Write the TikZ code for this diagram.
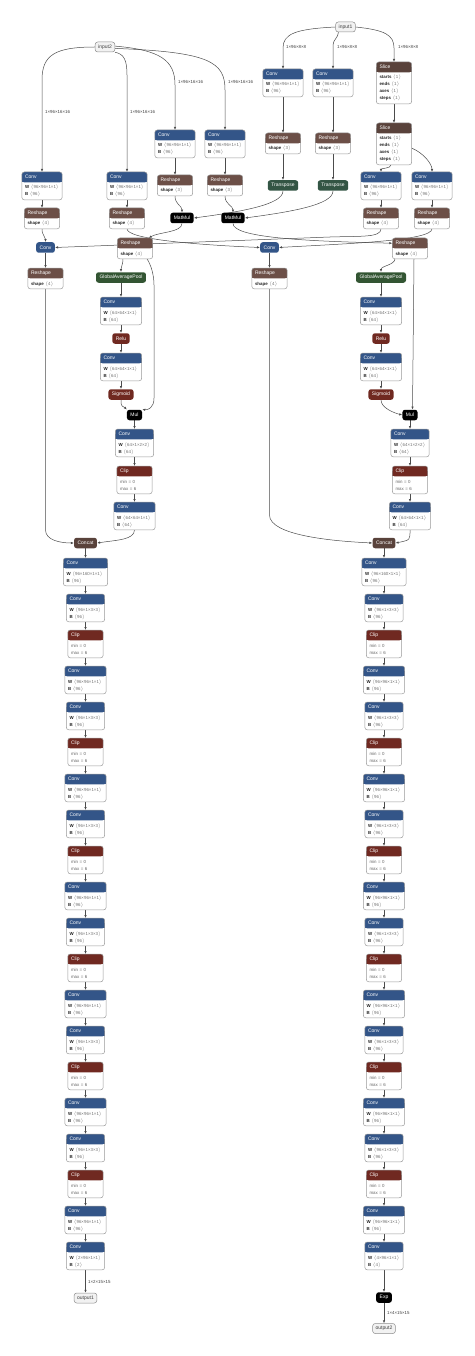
\documentclass[tikz,border=0pt]{standalone}
\usepackage{fontspec}
\setmainfont{Liberation Sans}
\usepackage{xcolor}
\usetikzlibrary{arrows.meta,positioning,calc}
\definecolor{convcol}{HTML}{335588}
\definecolor{actcol}{HTML}{702921}
\definecolor{shapecol}{HTML}{6C4F47}
\definecolor{tenscol}{HTML}{59423B}
\definecolor{transcol}{HTML}{335544}
\definecolor{poolcol}{HTML}{335533}
\newcommand{\hdfont}{\fontsize{5}{6}\selectfont}
\newcommand{\atfont}{\fontsize{4.4}{7}\selectfont}
\newcommand{\attv}[1]{\textcolor{black!55}{$\langle$#1$\rangle$}}
\pgfdeclarelayer{edgelayer}
\pgfdeclarelayer{boxlayer}
\pgfsetlayers{edgelayer,boxlayer,main}
\tikzset{
  ophead/.style={anchor=north, inner xsep=3pt, inner ysep=0pt, minimum height=10pt, align=left, text=white, font=\hdfont},
  opbody/.style={inner xsep=3pt, inner ysep=1.5pt, align=left, text=black!85, font=\atfont},
  opline/.style={draw=black!40, line width=0.5pt, rounded corners=2.5pt},
  tag/.style={fill=#1, text=white, rounded corners=2.5pt, minimum height=10.5pt, inner xsep=3.5pt, inner ysep=0pt, font=\hdfont},
  io/.style={fill=black!5, draw=black!45, line width=0.5pt, rounded corners=2.5pt, minimum height=10pt, inner xsep=3pt, inner ysep=0pt, font=\hdfont, text=black!75},
  link/.style={draw=black!70, line width=0.5pt, -{Latex[length=3pt,width=2.4pt]}},
  elabel/.style={anchor=west, font=\atfont, text=black!75, inner sep=0pt},
}
% operator box: name, x, top y, width, colour, title, attributes
\newcommand{\opbox}[7]{%
  \pgfmathsetmacro\boxtw{#4-6}
  \node[ophead, text width=\boxtw pt] (#1) at (#2,#3) {#6};
  \node[opbody, text width=\boxtw pt, below=0pt of #1] (#1-b) {\strut#7\strut};
  \begin{pgfonlayer}{boxlayer}
    \fill[white, rounded corners=2.5pt] (#1.north west) rectangle (#1-b.south east);
    \fill[#5, rounded corners=2.5pt] (#1.north west) rectangle (#1.south east);
    \fill[#5] (#1.west) rectangle (#1.south east);
    \draw[opline] (#1.north west) rectangle (#1-b.south east);
  \end{pgfonlayer}
}
\newcommand{\convwb}[2]{\mbox{\textbf{W}~\attv{#1}}\\\mbox{\textbf{B}~\attv{#2}}}
\newcommand{\clipmm}{\textcolor{black!60}{min~=~0}\\\textcolor{black!60}{max~=~6}}

\begin{document}
\begin{tikzpicture}[x=1pt,y=-1pt]
\useasboundingbox (0,0) rectangle (474,1356);

% graph inputs
\node[io] (in1) at (345.5,27) {input1};
\node[io] (in2) at (105,47) {input2};

% search branch (input2)
\opbox{cA}{42}{172}{40}{convcol}{Conv}{\convwb{96×96×1×1}{96}}
\opbox{cB}{127}{172}{40}{convcol}{Conv}{\convwb{96×96×1×1}{96}}
\opbox{cC}{175}{130}{40}{convcol}{Conv}{\convwb{96×96×1×1}{96}}
\opbox{cD}{225}{130}{40}{convcol}{Conv}{\convwb{96×96×1×1}{96}}
\opbox{rA}{42}{208}{35}{shapecol}{Reshape}{\textbf{shape}~\attv{4}}
\opbox{rB}{127}{208}{35}{shapecol}{Reshape}{\textbf{shape}~\attv{4}}
\opbox{rC}{175}{175}{35}{shapecol}{Reshape}{\textbf{shape}~\attv{3}}
\opbox{rD}{225}{175}{35}{shapecol}{Reshape}{\textbf{shape}~\attv{3}}

% template branch (input1)
\opbox{cE}{283}{69}{40}{convcol}{Conv}{\convwb{96×96×1×1}{96}}
\opbox{cF}{333}{69}{40}{convcol}{Conv}{\convwb{96×96×1×1}{96}}
\opbox{rE}{283}{133}{35}{shapecol}{Reshape}{\textbf{shape}~\attv{3}}
\opbox{rF}{333}{133}{35}{shapecol}{Reshape}{\textbf{shape}~\attv{3}}
\node[tag=transcol] (tE) at (283,185.5) {Transpose};
\node[tag=transcol] (tF) at (333,185.5) {Transpose};
\opbox{slA}{394}{62}{35}{tenscol}{Slice}{\textbf{starts}~\attv{1}\\\textbf{ends}~\attv{1}\\\textbf{axes}~\attv{1}\\\textbf{steps}~\attv{1}}
\opbox{slB}{394}{123}{35}{tenscol}{Slice}{\textbf{starts}~\attv{1}\\\textbf{ends}~\attv{1}\\\textbf{axes}~\attv{1}\\\textbf{steps}~\attv{1}}
\opbox{cG}{381}{172}{40}{convcol}{Conv}{\convwb{96×96×1×1}{96}}
\opbox{cH}{432}{172}{40}{convcol}{Conv}{\convwb{96×96×1×1}{96}}
\opbox{rG}{381}{208}{35}{shapecol}{Reshape}{\textbf{shape}~\attv{4}}
\opbox{rH}{432}{208}{35}{shapecol}{Reshape}{\textbf{shape}~\attv{4}}

% correlations
\node[tag=black] (mmA) at (182,218) {MatMul};
\node[tag=black] (mmB) at (233,218) {MatMul};
\node[tag=convcol] (dcA) at (45.5,247.5) {Conv};
\node[tag=convcol] (dcB) at (269.5,247.5) {Conv};
\opbox{rpA}{135}{238}{35}{shapecol}{Reshape}{\textbf{shape}~\attv{4}}
\opbox{rpB}{410}{238}{35}{shapecol}{Reshape}{\textbf{shape}~\attv{4}}
\opbox{rL2}{45.5}{268}{35}{shapecol}{Reshape}{\textbf{shape}~\attv{4}}
\opbox{rR2}{269.5}{268}{35}{shapecol}{Reshape}{\textbf{shape}~\attv{4}}

% channel attention, left
\node[tag=poolcol] (gapA) at (121,277.5) {GlobalAveragePool};
\opbox{seA1}{121}{297}{41}{convcol}{Conv}{\convwb{64×64×1×1}{64}}
\node[tag=actcol] (reluA) at (121,338.5) {Relu};
\opbox{seA2}{121}{353}{41}{convcol}{Conv}{\convwb{64×64×1×1}{64}}
\node[tag=actcol] (sigA) at (121,394.5) {Sigmoid};
\node[tag=black] (mulA) at (134.5,415) {Mul};
\opbox{dwA}{134.5}{429}{38}{convcol}{Conv}{\convwb{64×1×2×2}{64}}
\opbox{clA}{134.5}{466}{35}{actcol}{Clip}{\clipmm}
\opbox{pwA}{134.5}{502}{41}{convcol}{Conv}{\convwb{64×64×1×1}{64}}
\node[tag=tenscol] (catA) at (85.5,543) {Concat};

% channel attention, right
\node[tag=poolcol] (gapB) at (381,277.5) {GlobalAveragePool};
\opbox{seB1}{381}{297}{41}{convcol}{Conv}{\convwb{64×64×1×1}{64}}
\node[tag=actcol] (reluB) at (381,338.5) {Relu};
\opbox{seB2}{381}{353}{41}{convcol}{Conv}{\convwb{64×64×1×1}{64}}
\node[tag=actcol] (sigB) at (381,394.5) {Sigmoid};
\node[tag=black] (mulB) at (410,415) {Mul};
\opbox{dwB}{410}{429}{38}{convcol}{Conv}{\convwb{64×1×2×2}{64}}
\opbox{clB}{410}{466}{35}{actcol}{Clip}{\clipmm}
\opbox{pwB}{410}{502}{41}{convcol}{Conv}{\convwb{64×64×1×1}{64}}
\node[tag=tenscol] (catB) at (384,543) {Concat};

% head towers
\foreach \s/\cx in {L/85.5,R/384}{
  \opbox{\s0}{\cx}{558}{44}{convcol}{Conv}{\convwb{96×160×1×1}{96}}
  \foreach \j in {0,...,5}{
    \pgfmathtruncatemacro\ka{3*\j+1}
    \pgfmathtruncatemacro\kb{3*\j+2}
    \pgfmathtruncatemacro\kc{3*\j+3}
    \opbox{\s\ka}{\cx}{558+36*\ka}{38}{convcol}{Conv}{\convwb{96×1×3×3}{96}}
    \opbox{\s\kb}{\cx}{558+36*\kb}{35}{actcol}{Clip}{\clipmm}
    \opbox{\s\kc}{\cx}{558+36*\kc}{41}{convcol}{Conv}{\convwb{96×96×1×1}{96}}
  }
}
\opbox{L19}{85.5}{1242}{38}{convcol}{Conv}{\convwb{2×96×1×1}{2}}
\opbox{R19}{384}{1242}{38}{convcol}{Conv}{\convwb{4×96×1×1}{4}}
\node[io] (out1) at (85.5,1298) {output1};
\node[tag=black] (expB) at (384,1297.5) {Exp};
\node[io] (out2) at (384,1328.5) {output2};

\begin{pgfonlayer}{edgelayer}
% from the inputs
\draw[link] (in2.west) .. controls (55,47) and (42,55) .. (42,80) -- (cA.north);
\draw[link] (in2.south east) .. controls (124,54) and (127,60) .. (127,75) -- (cB.north);
\draw[link] (in2.5) .. controls (160,50) and (175,60) .. (175,85) -- (cC.north);
\draw[link] (in2.-8) .. controls (210,52) and (225,62) .. (225,90) -- (cD.north);
\draw[link] (in1.west) .. controls (295,29) and (283,34) .. (283,48) -- (cE.north);
\draw[link] ($(in1.south west)+(3,0)$) .. controls +(0,5) and +(0,-5) .. (333,45) -- (cF.north);
\draw[link] (in1.east) .. controls (385,30) and (394,35) .. (394,48) -- (slA.north);
\node[elabel] (lb1) at (45,112) {1×96×16×16};
\node[elabel] (lb2) at (130,112) {1×96×16×16};
\node[elabel] (lb3) at (178,82) {1×96×16×16};
\node[elabel] (lb4) at (228,82) {1×96×16×16};
\node[elabel] (lb5) at (286,47) {1×96×8×8};
\node[elabel] (lb6) at (337,47) {1×96×8×8};
\node[elabel] (lb7) at (398,47) {1×96×8×8};
% straight runs
\foreach \a/\b in {cA/rA,cB/rB,cC/rC,cD/rD,cE/rE,cF/rF,cG/rG,cH/rH,slA/slB,rE/tE,rF/tF,
                   seA1/reluA,seA2/sigA,dwA/clA,clA/pwA,seB1/reluB,seB2/sigB,dwB/clB,clB/pwB}
  \draw[link] (\a-b) -- (\b);
\foreach \a/\b in {gapA/seA1,reluA/seA2,mulA/dwA,gapB/seB1,reluB/seB2,mulB/dwB,dcA/rL2,dcB/rR2,catA/L0,catB/R0}
  \draw[link] (\a) -- (\b);
% correlation wiring
\draw[link] (rC-b.south) .. controls +(0,9) and +(0,-7) .. (mmA.north);
\draw[link] (rD-b.south) .. controls +(0,9) and +(0,-7) .. (mmB.north);
\draw[link] (tE.south) .. controls +(0,14) and +(45,-6) .. (mmA.east);
\draw[link] (tF.south) .. controls +(0,14) and +(45,-6) .. (mmB.east);
\draw[link] ($(slB-b.south)+(-3,0)$) .. controls +(0,4) and +(0,-4) .. (cG.north);
\draw[link] ($(slB-b.east)+(0,-1)$) .. controls +(12,5) and +(0,-8) .. (cH.north);
\draw[link] (rA-b.south) .. controls +(0,7) and +(0,-6) .. (dcA.north);
\draw[link] (mmA.south) .. controls +(0,9) and +(10,-6) .. ($(rpA.north east)+(-4,0)$);
\draw[link] (mmB.south) .. controls +(0,14) and +(-90,-2) .. (rpB.west);
\draw[link] (rB-b.south) .. controls +(0,10) and +(-70,-3) .. (dcB.west);
\draw[link] (rG-b.south) .. controls +(0,9) and +(30,-1) .. (330,237) -- (dcA.east);
\draw[link] (rH-b.south) .. controls +(0,12) and +(70,-4) .. (dcB.east);
% attention wiring
\draw[link] ($(rpA-b.south)+(-12,0)$) .. controls +(0,6) and +(0,-6) .. (gapA.north);
\draw[link] ($(rpA-b.south)+(12,0)$) .. controls +(4,6) and +(0,-10) .. (154,285) -- (154,398) .. controls (154,408) and (148,410) .. (mulA.north east);
\draw[link] (sigA.south) .. controls +(0,8) and +(-4,-4) .. (mulA.north west);
\draw[link] (pwA-b.south) .. controls +(0,10) and +(20,-3) .. (catA.east);
\draw[link] (rL2-b.south) -- (45.5,530) .. controls (45.5,540) and (60,543) .. (catA.west);
\draw[link] ($(rpB-b.south)+(-15,0)$) .. controls +(0,6) and +(0,-6) .. (gapB.north);
\draw[link] ($(rpB-b.south)+(4,0)$) -- ($(mulB.north)+(2.5,0)$);
\draw[link] (sigB.south) .. controls +(0,8) and +(-8,-2) .. (mulB.west);
\draw[link] (pwB-b.south) .. controls +(0,10) and +(15,-3) .. (catB.east);
\draw[link] (rR2-b.south) -- (269.5,515) .. controls (269.5,535) and (330,541) .. (catB.west);
% towers
\foreach \k [count=\n from 1] in {0,...,18}{
  \draw[link] (L\k-b) -- (L\n);
  \draw[link] (R\k-b) -- (R\n);
}
\draw[link] (L19-b) -- (out1);
\draw[link] (R19-b) -- (expB);
\draw[link] (expB) -- (out2);
\node[elabel] (lb8) at (88,1282) {1×2×15×15};
\node[elabel] (lb9) at (387,1313) {1×4×15×15};
\end{pgfonlayer}
\end{tikzpicture}
\end{document}
